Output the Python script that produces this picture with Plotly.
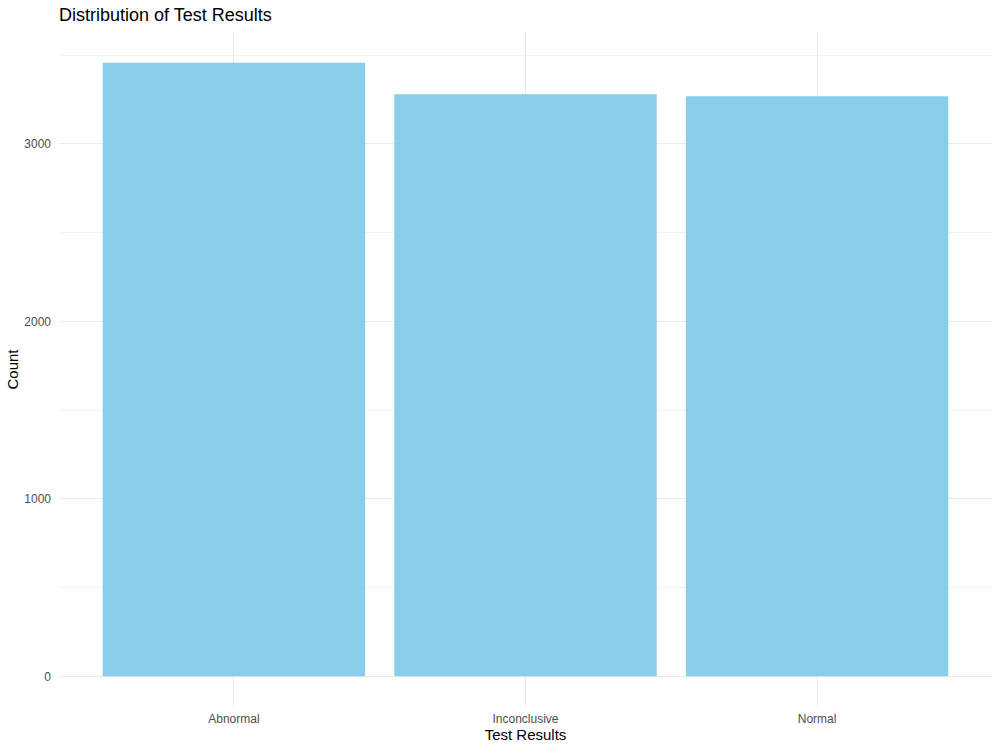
import plotly.graph_objects as go

categories = ["Abnormal", "Inconclusive", "Normal"]
counts = [3458, 3280, 3269]
y_ticks = [0, 1000, 2000, 3000]

ymax = max(counts)
fig = go.Figure(go.Bar(x=categories, y=counts, marker=dict(color="#87CEEB", line=dict(width=0)),
                       width=0.9))

W, H = 1000, 750
font = "Liberation Sans, Arial, Helvetica, sans-serif"
fig.update_layout(
    width=W, height=H,
    paper_bgcolor="white", plot_bgcolor="white",
    margin=dict(l=59, r=8, t=32, b=43),
    title=dict(text="Distribution of Test Results", x=59/W, xanchor="left",
               y=1 - 14.5/H, yanchor="middle", font=dict(family=font, size=18, color="black")),
    font=dict(family=font),
    showlegend=False,
)
fig.update_xaxes(
    range=[-0.6, 2.6], showgrid=True, gridcolor="#EBEBEB", gridwidth=1,
    ticks="", zeroline=False, showline=False,
    tickfont=dict(family=font, size=12, color="#4D4D4D"),
    ticklabelstandoff=3,
    title=dict(text="Test Results", font=dict(family=font, size=15, color="black"), standoff=2),
)
fig.update_yaxes(
    range=[-0.05 * ymax, 1.05 * ymax], tickvals=y_ticks, ticktext=[str(v) for v in y_ticks],
    showgrid=True, gridcolor="#EBEBEB", gridwidth=1, zeroline=False, showline=False, ticks="",
    minor=dict(tickvals=[500, 1500, 2500, 3500], showgrid=True, gridcolor="#F3F3F3", gridwidth=0.6),
    tickfont=dict(family=font, size=12, color="#4D4D4D"),
    ticklabelstandoff=7,
    title=dict(text="Count", font=dict(family=font, size=15, color="black"), standoff=2),
)
fig.write_html("out.html", config={"displayModeBar": False},
               post_script="document.body.style.margin='0';")
